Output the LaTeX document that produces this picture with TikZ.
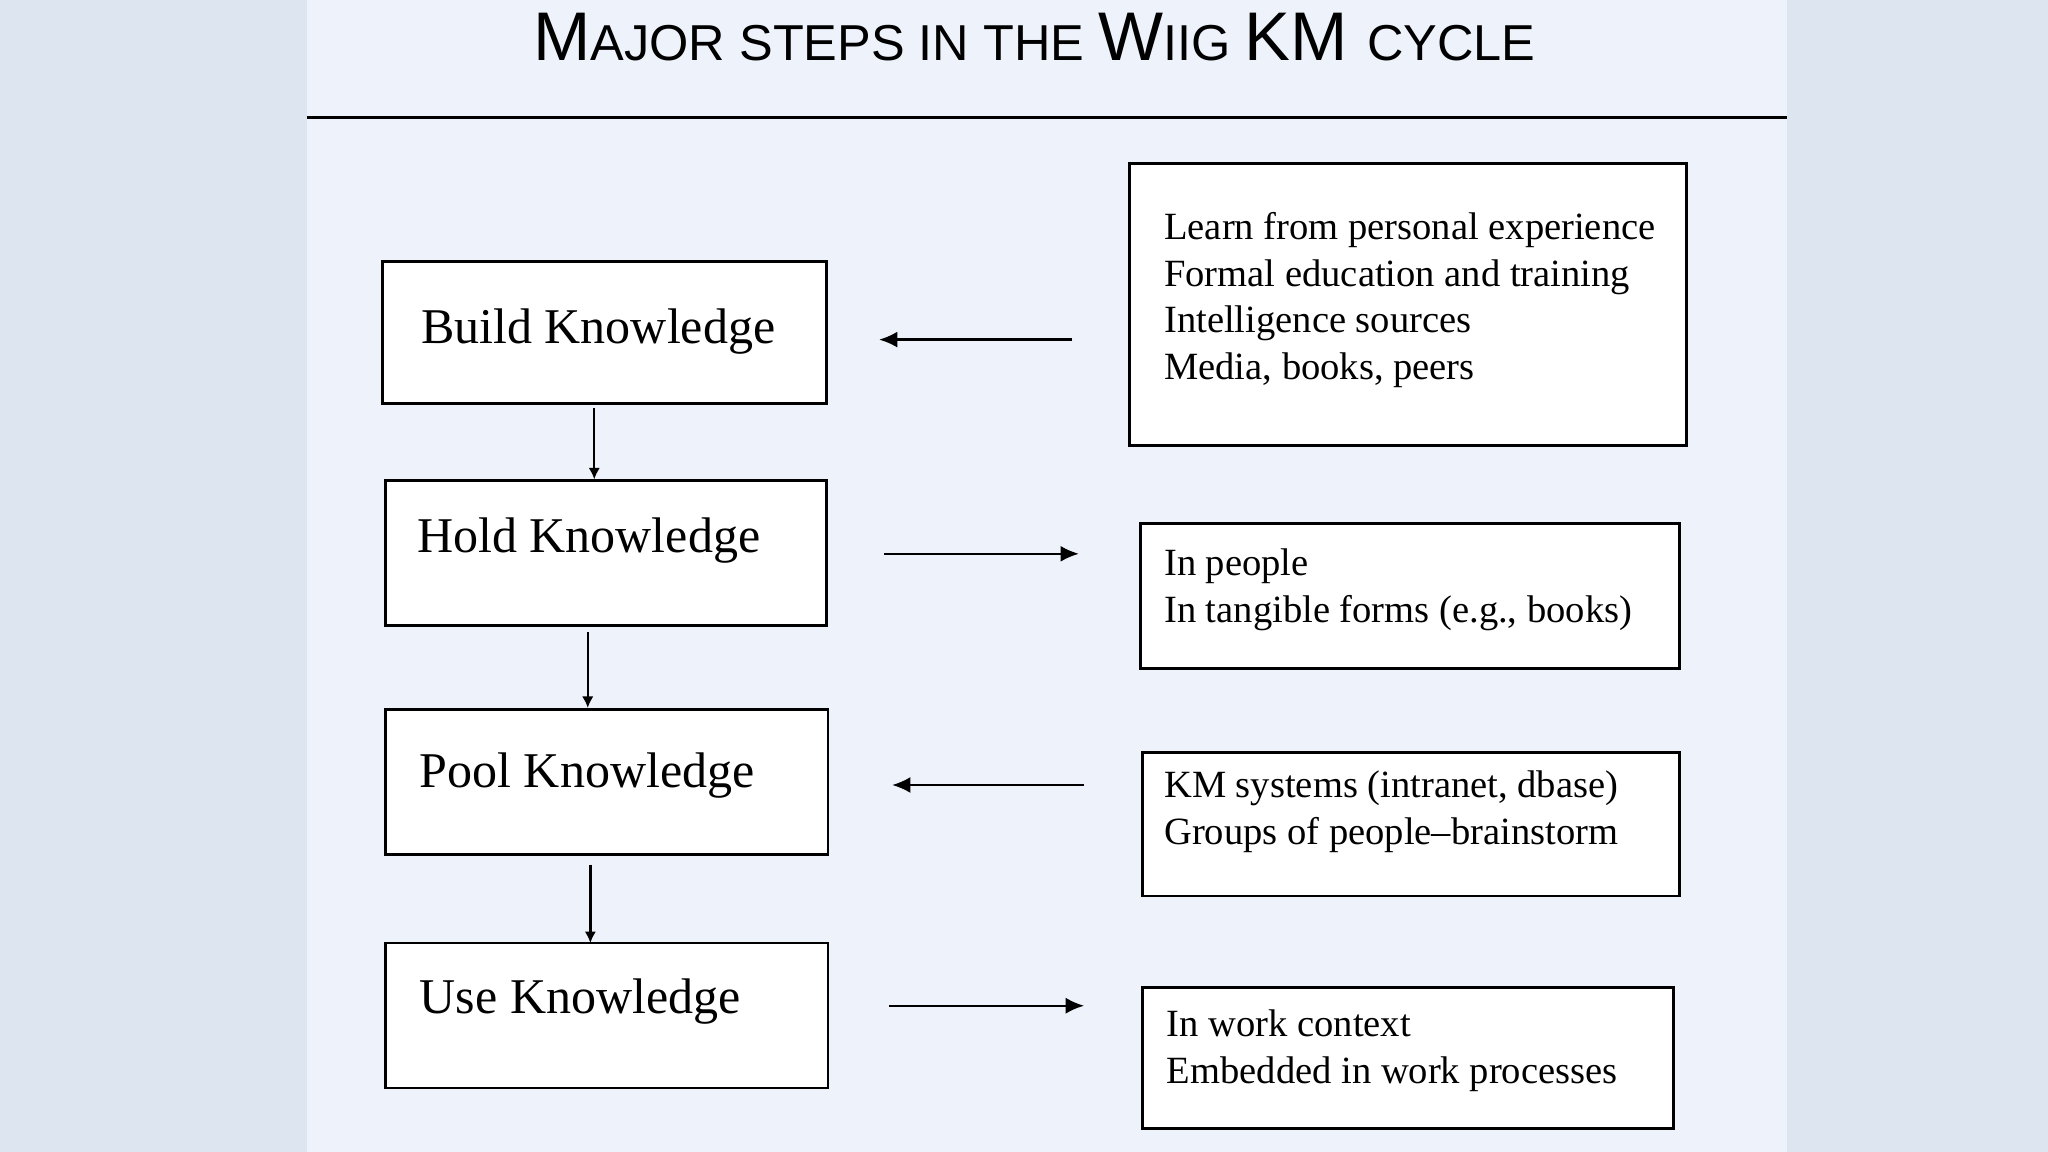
\documentclass[tikz,border=0pt]{standalone}
\usepackage{fontspec}
\setmainfont{Liberation Serif}
\setsansfont{Liberation Sans}
\usetikzlibrary{arrows.meta}
\definecolor{outer}{HTML}{DDE6F0}
\definecolor{panel}{HTML}{EEF3FB}
\begin{document}
\begin{tikzpicture}[x=0.02cm,y=-0.02cm,
  box/.style={draw=black,line width=1.2pt,fill=white},
  big/.style={anchor=west,inner sep=0,font=\fontsize{21.8}{26}\selectfont},
  small/.style={anchor=north west,inner sep=0,align=left,font=\fontsize{16.8}{20.4}\selectfont},
  arr/.style={line width=1pt,-{Latex[length=8pt,width=7pt]}},
  varr/.style={line width=1pt,-{Latex[length=5pt,width=5pt]}}]
\fill[outer] (0,0) rectangle (1568,882);
\fill[panel] (235,0) rectangle (1368,882);
\useasboundingbox (0,0) rectangle (1568,882);
\node[font=\sffamily,inner sep=0] (title) at (792,28) {\fontsize{30}{36}\selectfont M\fontsize{22}{36}\selectfont AJOR STEPS IN THE \fontsize{30}{36}\selectfont W\fontsize{22}{36}\selectfont IIG \fontsize{30}{36}\selectfont KM \fontsize{22}{36}\selectfont CYCLE};
\draw[line width=1.2pt] (235,90) -- (1368,90);
% left boxes
\draw[box] (293,200) rectangle (633,309); \node[big] (b) at (322,254) {Build Knowledge};
\draw[box] (295,368) rectangle (633,479); \node[big] (h) at (319,414) {Hold Knowledge};
\draw[box] (295,543) rectangle (634,654); \node[big] (p) at (321,594) {Pool Knowledge};
\draw[box] (295,722) rectangle (634,833); \node[big] (u) at (321,767) {Use Knowledge};
% right boxes
\draw[box] (865,125) rectangle (1291,341);
\node[small] (r1) at (891,162) {Learn from personal experience\\Formal education and training\\Intelligence sources\\Media, books, peers};
\draw[box] (873,401) rectangle (1286,512);
\node[small] (r2) at (891,420) {In people\\In tangible forms (e.g., books)};
\draw[box] (875,576) rectangle (1286,686);
\node[small] (r3) at (891,590) {KM systems (intranet, dbase)\\Groups of people--brainstorm};
\draw[box] (875,756) rectangle (1281,864);
\node[small] (r4) at (893,773) {In work context\\Embedded in work processes};
% arrows
\coordinate (a1s) at (821,260); \coordinate (a1e) at (673,260);
\coordinate (a2s) at (677,424); \coordinate (a2e) at (826,424);
\coordinate (a3s) at (830,601); \coordinate (a3e) at (683,601);
\coordinate (a4s) at (681,770); \coordinate (a4e) at (830,770);
\draw[arr] (a1s) -- (a1e);
\draw[arr] (a2s) -- (a2e);
\draw[arr] (a3s) -- (a3e);
\draw[arr] (a4s) -- (a4e);
\coordinate (v1s) at (455,312); \coordinate (v1e) at (455,367);
\coordinate (v2s) at (450,484); \coordinate (v2e) at (450,542);
\coordinate (v3s) at (452,662); \coordinate (v3e) at (452,722);
\draw[varr] (v1s) -- (v1e);
\draw[varr] (v2s) -- (v2e);
\draw[varr] (v3s) -- (v3e);
\end{tikzpicture}
\end{document}
